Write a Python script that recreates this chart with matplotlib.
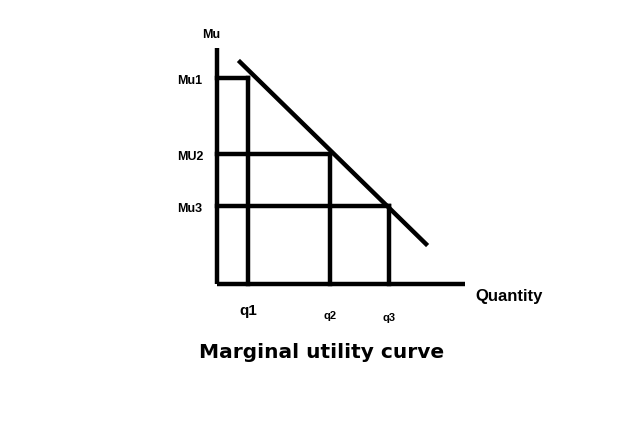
import matplotlib
matplotlib.use("Agg")
import matplotlib.pyplot as plt

# data (origin at axes intersection)
q_vals = [31, 113, 172]
q_labels = ["q1", "q2", "q3"]
mu_vals = [206, 130, 78]
mu_labels = ["Mu1", "MU2", "Mu3"]
curve_x = [23, 209]
curve_y = [222, 40]

fig = plt.figure(figsize=(6.4, 4.36), dpi=100)
ax = fig.add_axes([0, 0, 1, 1])
ax.set_xlim(-217, 423)
ax.set_ylim(-152, 284)
ax.axis("off")
lw = 3.2
fam = "Liberation Sans"
ax.plot([0, 0], [0, 236], color="black", lw=lw, solid_capstyle="butt")
ax.plot([0, 248], [0, 0], color="black", lw=lw, solid_capstyle="butt")
ax.plot(curve_x, curve_y, color="black", lw=lw)
for q, m in zip(q_vals, mu_vals):
    ax.plot([0, q], [m, m], color="black", lw=lw)
    ax.plot([q, q], [0, m], color="black", lw=lw)
ax.text(-6, 249, "Mu", fontsize=9, fontweight="bold", family=fam, ha="center", va="center")
for m, l in zip(mu_vals, mu_labels):
    ax.text(-27, m - 3, l, fontsize=9, fontweight="bold", family=fam, ha="center", va="center")
sizes = [11, 8, 8]
offs = [27, 32, 34]
for q, l, s, o in zip(q_vals, q_labels, sizes, offs):
    ax.text(q, -o, l, fontsize=s, fontweight="bold", family=fam, ha="center", va="center")
ax.text(292, -13, "Quantity", fontsize=12, fontweight="bold", family=fam, ha="center", va="center")
ax.text(105, -68, "Marginal utility curve", fontsize=14.5, fontweight="bold", family="DejaVu Sans", ha="center", va="center")
fig.savefig("out.png", dpi=100)
